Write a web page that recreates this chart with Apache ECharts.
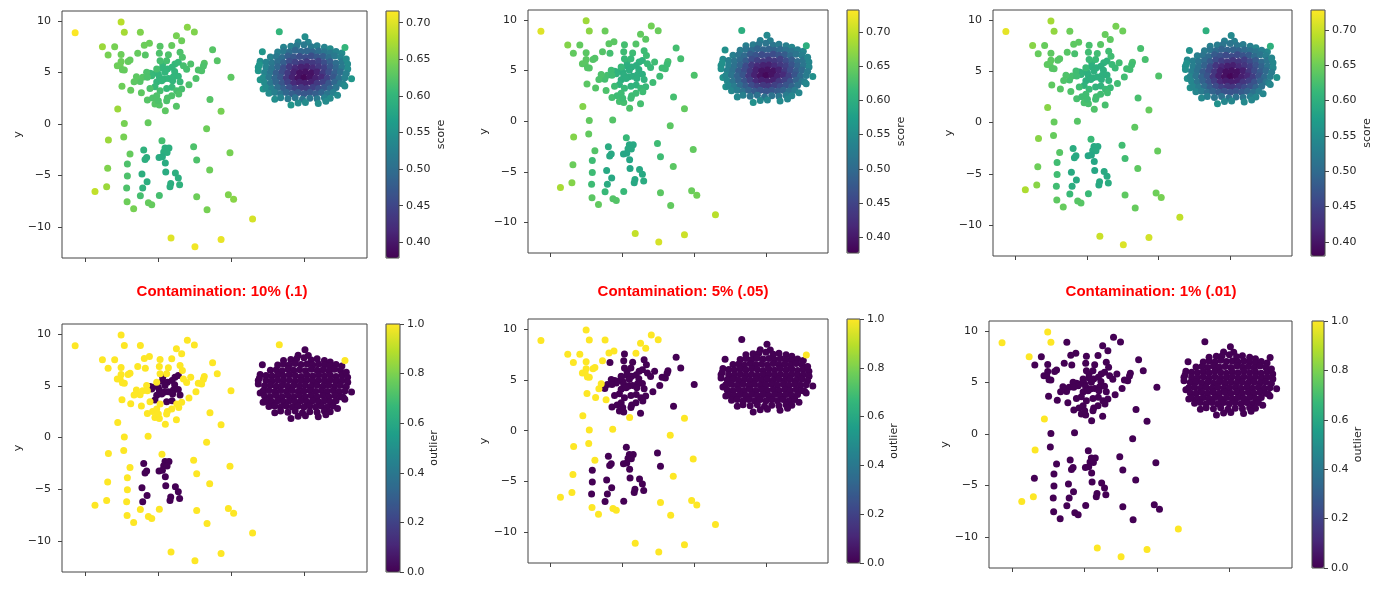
<!DOCTYPE html>
<html>
<head>
<meta charset="utf-8">
<title>Contamination</title>
<script src="https://cdn.jsdelivr.net/npm/echarts@6/dist/echarts.min.js"></script>
<style>html,body{margin:0;background:#fff}#main{width:1400px;height:589px}</style>
</head>
<body>
<div id="main"></div>
<script>
// each point: [x, y, score, level]; level = smallest contamination (%) at which the point is flagged, 0 = never
var farPoints = [
  [-10.68, 8.87, 0.715, 1], [-7.53, 9.90, 0.68, 1], [-7.31, 8.90, 0.67, 1], [-8.81, 7.51, 0.665, 1],
  [-7.76, 1.46, 0.665, 1], [-8.40, -1.55, 0.665, 1], [-8.52, -6.08, 0.665, 1], [-9.32, -6.54, 0.685, 1],
  [1.48, -9.22, 0.695, 1], [-4.11, -11.07, 0.70, 1], [-2.47, -11.91, 0.71, 1], [-0.68, -11.20, 0.705, 1]
];
var edgePoints = [
  [-6.21, 8.90, 0.65, 5], [-3.74, 8.58, 0.645, 5], [-2.99, 9.39, 0.655, 5], [-2.51, 8.93, 0.65, 5],
  [-3.38, 8.09, 0.64, 5], [-7.97, 7.51, 0.645, 5], [-5.59, 7.83, 0.64, 5], [-5.94, 7.64, 0.64, 5],
  [-8.42, 6.70, 0.645, 5], [-7.53, 6.76, 0.64, 5], [-6.39, 6.86, 0.635, 5], [-4.06, 7.61, 0.635, 5],
  [-6.92, 6.21, 0.635, 5], [-7.05, 6.08, 0.635, 5], [-7.53, 6.08, 0.64, 5], [-7.79, 5.66, 0.64, 5],
  [-7.60, 5.66, 0.64, 5], [-7.31, 5.24, 0.635, 5], [-7.44, 5.28, 0.635, 5], [-6.48, 4.60, 0.63, 5],
  [-6.64, 4.11, 0.63, 5], [-7.47, 3.66, 0.64, 5], [-6.87, 3.27, 0.635, 5], [-6.14, 3.04, 0.63, 5],
  [-4.50, 1.29, 0.63, 5], [-0.68, 1.23, 0.645, 5], [-1.67, -0.45, 0.64, 5], [-5.68, 0.13, 0.635, 5],
  [-7.31, 0.06, 0.645, 5], [-7.35, -1.26, 0.645, 5], [-6.92, -2.91, 0.635, 5], [-0.07, -2.78, 0.645, 5],
  [-8.45, -4.30, 0.65, 5], [-1.46, -4.47, 0.64, 5], [-7.12, -7.54, 0.64, 5], [-6.67, -8.22, 0.645, 5],
  [-5.66, -7.64, 0.635, 5], [-5.43, -7.83, 0.635, 5], [-2.35, -7.06, 0.64, 5], [-1.64, -8.32, 0.645, 5],
  [-0.18, -6.86, 0.65, 5], [0.18, -7.31, 0.655, 5], [7.81, 7.44, 0.60, 5]
];
var ringPoints = [
  [-4.86, 7.54, 0.625, 10], [-4.91, 6.86, 0.62, 10], [-5.87, 6.70, 0.625, 10], [-4.29, 6.73, 0.62, 10],
  [-3.49, 6.96, 0.62, 10], [-3.33, 6.47, 0.62, 10], [-1.26, 7.22, 0.625, 10], [-0.94, 6.15, 0.625, 10],
  [-4.86, 6.15, 0.615, 10], [-4.41, 6.15, 0.615, 10], [-2.76, 5.83, 0.62, 10], [-2.24, 5.24, 0.62, 10],
  [-2.01, 5.18, 0.62, 10], [-1.83, 5.89, 0.625, 10], [-1.89, 5.63, 0.62, 10], [-5.09, 5.34, 0.615, 10],
  [-5.78, 5.02, 0.62, 10], [-6.05, 4.53, 0.625, 10], [-5.73, 4.53, 0.62, 10], [-6.23, 4.14, 0.625, 10],
  [-3.26, 5.66, 0.615, 10], [-3.04, 5.31, 0.615, 10], [-2.88, 3.82, 0.62, 10], [-2.40, 4.43, 0.62, 10],
  [0.00, 4.53, 0.63, 10], [-5.55, 3.46, 0.62, 10], [-4.86, 3.24, 0.615, 10], [-3.72, 3.24, 0.615, 10],
  [-3.38, 3.40, 0.615, 10], [-5.73, 2.33, 0.625, 10], [-5.37, 2.52, 0.62, 10], [-5.09, 2.75, 0.62, 10],
  [-4.36, 2.52, 0.62, 10], [-4.06, 2.75, 0.62, 10], [-3.58, 2.91, 0.62, 10], [-5.21, 1.94, 0.625, 10],
  [-4.91, 1.84, 0.625, 10], [-4.98, 2.27, 0.62, 10], [-4.41, 2.27, 0.62, 10], [-3.74, 1.72, 0.625, 10],
  [-1.44, 2.39, 0.625, 10], [-4.73, -1.62, 0.615, 10], [-2.56, -2.20, 0.62, 10], [-7.10, -3.88, 0.62, 10],
  [-7.10, -5.05, 0.62, 10], [-7.15, -6.21, 0.62, 10], [-6.21, -6.96, 0.615, 10], [-4.91, -6.93, 0.615, 10],
  [-2.35, -3.50, 0.62, 10], [3.31, 8.96, 0.60, 10]
];
var upperCore = [
  [-4.68, 5.83, 0.605, 0], [-3.84, 5.83, 0.605, 0], [-3.61, 5.99, 0.605, 0], [-4.70, 5.44, 0.60, 0],
  [-4.36, 5.34, 0.60, 0], [-4.04, 5.50, 0.60, 0], [-3.86, 5.11, 0.60, 0], [-5.55, 4.92, 0.605, 0],
  [-5.37, 4.85, 0.605, 0], [-4.98, 4.85, 0.60, 0], [-4.52, 5.02, 0.60, 0], [-5.43, 4.69, 0.605, 0],
  [-4.91, 4.56, 0.60, 0], [-4.59, 4.37, 0.60, 0], [-4.29, 4.43, 0.60, 0], [-3.95, 4.60, 0.60, 0],
  [-3.61, 4.63, 0.60, 0], [-5.09, 4.08, 0.60, 0], [-4.75, 4.21, 0.60, 0], [-4.00, 4.21, 0.60, 0],
  [-3.49, 4.11, 0.605, 0], [-5.21, 3.62, 0.605, 0], [-4.41, 3.46, 0.605, 0], [-4.04, 3.56, 0.605, 0]
];
var lowerCore = [
  [-4.52, -2.33, 0.59, 0], [-4.25, -2.33, 0.59, 0], [-4.61, -2.72, 0.59, 0], [-4.38, -2.75, 0.59, 0],
  [-5.98, -2.52, 0.595, 0], [-5.78, -3.24, 0.59, 0], [-5.89, -3.43, 0.59, 0], [-4.93, -3.24, 0.585, 0],
  [-4.70, -3.17, 0.585, 0], [-4.50, -3.79, 0.585, 0], [-6.10, -4.85, 0.59, 0], [-4.47, -4.66, 0.585, 0],
  [-3.81, -4.76, 0.59, 0], [-3.61, -5.24, 0.59, 0], [-5.75, -5.60, 0.59, 0], [-4.13, -5.76, 0.59, 0],
  [-4.18, -6.08, 0.59, 0], [-3.52, -5.89, 0.595, 0], [-6.05, -6.21, 0.595, 0]
];
// dense cluster: [x, y, score], never flagged
var blob = [
  [5.07,8.48,0.545],[5.30,7.93,0.53],[4.6,7.95,0.53],
  [3.6,7.45,0.53],[4.1,7.55,0.525],[4.5,7.6,0.515],[5.0,7.7,0.515],[5.5,7.5,0.515],[5.9,7.6,0.525],[6.4,7.45,0.53],[6.8,7.3,0.54],[7.6,6.9,0.54],
  [2.15,7.02,0.555],[3.2,7.0,0.525],[3.6,7.1,0.515],[4.0,7.0,0.50],[4.4,7.15,0.49],[4.8,7.05,0.49],[5.2,7.1,0.49],[5.6,7.0,0.49],[6.0,7.1,0.50],[6.4,7.0,0.51],[6.8,6.9,0.515],[7.2,7.05,0.53],
  [2.7,6.5,0.53],[3.1,6.55,0.515],[3.5,6.45,0.50],[3.9,6.6,0.48],[4.3,6.5,0.47],[4.7,6.55,0.46],[5.1,6.45,0.46],[5.5,6.6,0.46],[5.9,6.5,0.47],[6.3,6.55,0.48],[6.7,6.45,0.50],[7.1,6.6,0.515],[7.5,6.5,0.53],
  [2.0,6.1,0.545],[2.4,6.0,0.53],[2.8,5.95,0.515],[3.2,6.05,0.50],[3.6,5.95,0.48],[4.0,6.1,0.46],[4.4,6.0,0.445],[4.8,5.9,0.435],[5.2,6.05,0.435],[5.6,5.95,0.435],[6.0,6.1,0.445],[6.4,5.95,0.46],[6.8,6.05,0.48],[7.2,5.9,0.50],[7.6,6.05,0.515],[7.99,5.83,0.54],[7.9,6.3,0.54],
  [1.87,5.5,0.555],[1.95,5.75,0.555],[2.4,5.5,0.53],[2.8,5.45,0.51],[3.2,5.55,0.49],[3.6,5.45,0.46],[4.0,5.55,0.435],[4.4,5.45,0.42],[4.8,5.5,0.41],[5.2,5.55,0.41],[5.6,5.45,0.42],[6.0,5.55,0.435],[6.4,5.45,0.445],[6.8,5.55,0.47],[7.2,5.45,0.49],[7.6,5.5,0.515],[8.0,5.35,0.54],
  [1.87,5.18,0.555],[2.3,5.0,0.53],[2.7,5.05,0.51],[3.1,4.95,0.48],[3.5,5.05,0.46],[3.9,4.95,0.435],[4.3,5.05,0.41],[4.7,4.95,0.395],[5.1,5.05,0.395],[5.5,4.95,0.395],[5.9,5.05,0.41],[6.3,4.95,0.435],[6.7,5.05,0.46],[7.1,4.95,0.48],[7.5,5.05,0.50],[7.9,4.9,0.525],
  [2.0,4.3,0.555],[2.2,4.5,0.54],[2.6,4.55,0.515],[3.0,4.45,0.49],[3.4,4.55,0.47],[3.8,4.45,0.435],[4.2,4.55,0.41],[4.6,4.45,0.395],[5.0,4.5,0.385],[5.4,4.55,0.395],[5.8,4.45,0.41],[6.2,4.55,0.42],[6.6,4.45,0.445],[7.0,4.55,0.47],[7.4,4.45,0.50],[7.8,4.5,0.525],[8.26,4.40,0.555],
  [2.3,4.0,0.54],[2.7,3.95,0.515],[3.1,4.05,0.49],[3.5,3.95,0.47],[3.9,4.05,0.445],[4.3,3.95,0.42],[4.7,4.05,0.41],[5.1,3.95,0.41],[5.5,4.05,0.41],[5.9,3.95,0.435],[6.3,4.05,0.445],[6.7,3.95,0.47],[7.1,4.05,0.49],[7.5,3.95,0.515],[7.69,3.88,0.53],[7.8,3.7,0.54],
  [2.2,3.4,0.555],[2.4,3.5,0.54],[2.8,3.45,0.525],[3.2,3.55,0.50],[3.6,3.45,0.48],[4.0,3.55,0.46],[4.4,3.45,0.445],[4.8,3.55,0.435],[5.2,3.45,0.435],[5.6,3.55,0.445],[6.0,3.45,0.46],[6.4,3.55,0.47],[6.8,3.45,0.49],[7.2,3.55,0.51],
  [2.6,3.0,0.54],[3.0,3.05,0.525],[3.4,2.95,0.51],[3.8,3.05,0.49],[4.2,2.95,0.48],[4.6,3.05,0.47],[5.0,2.95,0.47],[5.4,3.05,0.47],[5.8,2.95,0.48],[6.2,3.05,0.49],[6.6,2.95,0.51],[7.0,3.05,0.525],[7.3,2.8,0.54],
  [3.0,2.4,0.545],[3.4,2.55,0.53],[3.9,2.45,0.515],[4.4,2.55,0.51],[4.9,2.4,0.51],[5.4,2.5,0.51],[5.9,2.45,0.515],[6.4,2.55,0.525],[6.8,2.5,0.54],
  [4.11,1.84,0.555],[4.6,2.05,0.54],[5.1,2.1,0.54],[5.98,2.0,0.545],[6.5,2.2,0.54]
];

var contamination = [10, 5, 1];
var titles = ['Contamination: 10% (.1)', 'Contamination: 5% (.05)', 'Contamination: 1% (.01)'];
var scoreRanges = [[0.3786, 0.716], [0.377, 0.732], [0.380, 0.728]];
var xTicks = [-10, -5, 0, 5];
var yTicks = [-10, -5, 0, 5, 10];
var scoreTicks = [0.40, 0.45, 0.50, 0.55, 0.60, 0.65, 0.70];
var outlierTicks = [0, 0.2, 0.4, 0.6, 0.8, 1.0];

var viridis = ['#440154', '#482878', '#3e4989', '#31688e', '#26828e', '#1f9e89', '#35b779', '#6ece58', '#b5de2b', '#fde725'];

// layout: [left, top, right, bottom] of each plot box and colorbar
var plotBoxes = [[62, 11, 367, 258], [528, 10, 828, 253], [993, 10, 1292, 256],
                 [62, 324, 367, 572], [528, 319, 828, 563], [989, 321, 1292, 568]];
var barBoxes = [[386, 11, 399, 258], [847, 10, 859, 253], [1311, 10, 1325, 256],
                [386, 324, 400, 572], [847, 319, 860, 563], [1312, 321, 1324, 568]];
var titleCenters = [222, 683, 1151];

var allPoints = blob.map(function (p) { return [p[0], p[1], p[2], 0]; })
  .concat(upperCore, lowerCore, ringPoints, edgePoints, farPoints);

var font = 'DejaVu Sans';
var ink = '#262626';
var frame = '#444';

function minusFmt(v) { return v < 0 ? '\u2212' + Math.abs(v) : String(v); }

var grid = [], xAxis = [], yAxis = [], series = [], visualMap = [], title = [];

for (var k = 0; k < 6; k++) {
  var b = plotBoxes[k];
  grid.push({ left: b[0], top: b[1], width: b[2] - b[0], height: b[3] - b[1],
    show: true, borderColor: frame, borderWidth: 1, backgroundColor: '#fff' });
  xAxis.push({ gridIndex: k, type: 'value', min: -11.58, max: 9.32, position: 'bottom',
    axisLine: { show: false, onZero: false }, splitLine: { show: false },
    axisTick: { show: true, inside: false, customValues: xTicks, length: 4, lineStyle: { color: frame } },
    axisLabel: { show: false } });
  yAxis.push({ gridIndex: k, type: 'value', min: -13.0, max: 10.97, position: 'left',
    axisLine: { show: false, onZero: false }, splitLine: { show: false },
    axisTick: { show: true, inside: false, customValues: yTicks, length: 4, lineStyle: { color: frame } },
    axisLabel: { customValues: yTicks, formatter: minusFmt, margin: 11, fontSize: 11, color: ink, fontFamily: font },
    name: 'y', nameLocation: 'middle', nameRotate: 90, nameGap: 37,
    nameTextStyle: { fontSize: 11, color: ink, fontFamily: font } });
}

for (var j = 0; j < 6; j++) {
  var c = barBoxes[j];
  var isTop = j < 3;
  var col = j % 3;
  var range = isTop ? scoreRanges[col] : [0, 1];
  var ticks = isTop ? scoreTicks : outlierTicks;
  grid.push({ left: c[0], top: c[1], width: c[2] - c[0], height: c[3] - c[1],
    show: true, borderColor: frame, borderWidth: 1, backgroundColor: 'transparent', z: 10 });
  xAxis.push({ gridIndex: 6 + j, type: 'value', show: false, min: 0, max: 1 });
  yAxis.push({ gridIndex: 6 + j, type: 'value', position: 'right', min: range[0], max: range[1],
    axisLine: { show: false, onZero: false }, splitLine: { show: false }, z: 10,
    axisTick: { show: true, customValues: ticks, length: 4, lineStyle: { color: frame } },
    axisLabel: { customValues: ticks, margin: 7, fontSize: 11, color: ink, fontFamily: font,
      formatter: isTop ? function (v) { return v.toFixed(2); } : function (v) { return v.toFixed(1); } },
    name: isTop ? 'score' : 'outlier', nameLocation: 'middle', nameRotate: 90, nameGap: isTop ? 37 : 29,
    nameTextStyle: { fontSize: 11, color: ink, fontFamily: font } });

  var level = contamination[col];
  var data = isTop
    ? allPoints.map(function (p) { return [p[0], p[1], p[2]]; })
    : allPoints.map(function (p) { return [p[0], p[1], p[2], (p[3] > 0 && p[3] <= level) ? 1 : 0]; });

  series.push({ type: 'scatter', xAxisIndex: j, yAxisIndex: j, data: data, symbolSize: 7,
    itemStyle: { opacity: 1 }, emphasis: { disabled: true }, silent: true });

  visualMap.push({ type: 'continuous', seriesIndex: j, dimension: isTop ? 2 : 3,
    min: range[0], max: range[1], inRange: { color: viridis },
    left: c[0], top: c[1], itemWidth: c[2] - c[0], itemHeight: c[3] - c[1],
    orient: 'vertical', calculable: false, hoverLink: false, padding: 0, z: 4 });
}

for (var i = 0; i < 3; i++) {
  title.push({ text: titles[i], left: titleCenters[i], top: 284, textAlign: 'center', padding: 0,
    textStyle: { color: '#ff0000', fontWeight: 'bold', fontSize: 15, fontFamily: 'Liberation Sans' } });
}

var chart = echarts.init(document.getElementById('main'));
chart.setOption({
  animation: false,
  backgroundColor: '#fff',
  title: title,
  grid: grid,
  xAxis: xAxis,
  yAxis: yAxis,
  visualMap: visualMap,
  series: series
});
</script>
</body>
</html>
